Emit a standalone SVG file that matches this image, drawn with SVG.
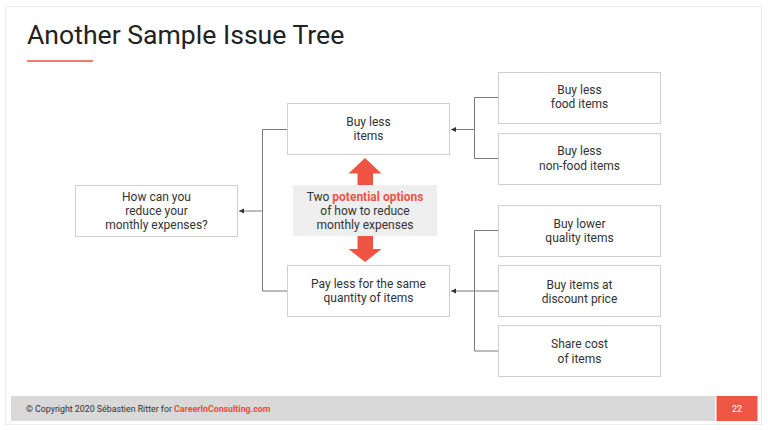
<svg xmlns="http://www.w3.org/2000/svg" width="768" height="430" viewBox="0 0 768 430">
<style>
.node rect{fill:#fff;stroke:#cfcfcf;stroke-width:1}
.t{font-family:Roboto,"Liberation Sans",sans-serif;font-size:12px;fill:#333;text-anchor:middle}
.conn path{fill:none;stroke:#7a7a7a;stroke-width:1}
</style>
<defs>
<marker id="ah" markerWidth="6" markerHeight="6" refX="5" refY="3" orient="auto" markerUnits="userSpaceOnUse">
<path d="M0,0.5 L5,3 L0,5.5 Z" fill="#333"/>
</marker>
</defs>
<rect x="0" y="0" width="768" height="430" fill="#fff"/>
<rect x="5.5" y="6.5" width="756" height="418" fill="#fff" stroke="#ececec" stroke-width="1"/>
<text x="27" y="44" font-family="Roboto,'Liberation Sans',sans-serif" font-size="26.6" fill="#222">Another Sample Issue Tree</text>
<rect x="27" y="60" width="66" height="2" fill="#f07a6c"/>

<g class="conn">
<path d="M287,129.5 H262.5 V291 H287"/>
<path d="M262.5,211 H239" marker-end="url(#ah)"/>
<path d="M498,97.5 H474.5 V158.5 H498"/>
<path d="M474.5,129.5 H451" marker-end="url(#ah)"/>
<path d="M498,230.5 H474.5 V351 H498"/>
<path d="M498,291 H451" marker-end="url(#ah)"/>
</g>

<g id="root" class="node"><rect x="75.5" y="185.5" width="162" height="51"/>
<text class="t"><tspan x="156.5" y="201">How can you</tspan><tspan x="156.5" y="215">reduce your</tspan><tspan x="156.5" y="229">monthly expenses?</tspan></text></g>

<g id="buy-less" class="node"><rect x="287.5" y="103.5" width="162" height="51"/>
<text class="t"><tspan x="368.5" y="126">Buy less</tspan><tspan x="368.5" y="140">items</tspan></text></g>

<g id="pay-less" class="node"><rect x="287.5" y="265.5" width="162" height="51"/>
<text class="t"><tspan x="368.5" y="288">Pay less for the same</tspan><tspan x="368.5" y="302">quantity of items</tspan></text></g>

<g id="food" class="node"><rect x="498.5" y="72.5" width="162" height="51"/>
<text class="t"><tspan x="579.5" y="94">Buy less</tspan><tspan x="579.5" y="108">food items</tspan></text></g>

<g id="nonfood" class="node"><rect x="498.5" y="133.5" width="162" height="51"/>
<text class="t"><tspan x="579.5" y="155">Buy less</tspan><tspan x="579.5" y="169.5">non-food items</tspan></text></g>

<g id="lower-quality" class="node"><rect x="498.5" y="205.5" width="162" height="51"/>
<text class="t"><tspan x="579.5" y="227.5">Buy lower</tspan><tspan x="579.5" y="242">quality items</tspan></text></g>

<g id="discount" class="node"><rect x="498.5" y="265.5" width="162" height="51"/>
<text class="t"><tspan x="579.5" y="289">Buy items at</tspan><tspan x="579.5" y="303">discount price</tspan></text></g>

<g id="share" class="node"><rect x="498.5" y="325.5" width="162" height="51"/>
<text class="t"><tspan x="579.5" y="348">Share cost</tspan><tspan x="579.5" y="362.5">of items</tspan></text></g>

<g id="options">
<path d="M365,158 L381.5,173.5 H373 V186 H357.5 V173.5 H348.5 Z" fill="#ef5343"/>
<path d="M365,262 L381.5,249 H373 V234 H357.5 V249 H348.5 Z" fill="#ef5343"/>
<rect x="293" y="185" width="144" height="51" fill="#eeeeee"/>
<text class="t"><tspan x="365" y="201">Two <tspan fill="#ef5343" font-weight="bold">potential options</tspan></tspan><tspan x="365" y="215">of how to reduce</tspan><tspan x="365" y="229">monthly expenses</tspan></text>
</g>

<rect x="11" y="396" width="704" height="25" fill="#d9d9d9"/>
<rect x="716.5" y="396" width="41" height="25" fill="#ef5645"/>
<text x="26" y="411.5" font-family="Roboto,'Liberation Sans',sans-serif" font-size="8.8" fill="#333">© Copyright 2020 Sébastien Ritter for <tspan fill="#ef4a3a" font-weight="bold">CareerInConsulting.com</tspan></text>
<text x="737" y="411.5" font-family="Roboto,'Liberation Sans',sans-serif" font-size="9" fill="#fff" text-anchor="middle">22</text>
</svg>
